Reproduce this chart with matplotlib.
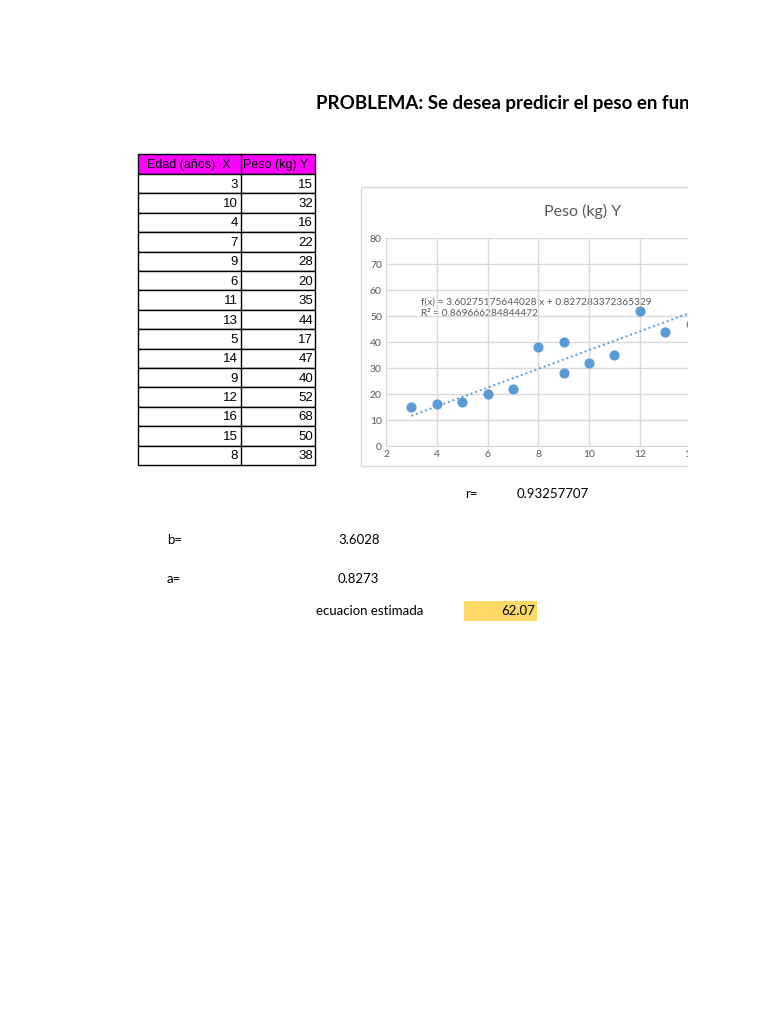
import matplotlib
matplotlib.use("Agg")
import matplotlib.pyplot as plt
from matplotlib.patches import Rectangle

# data from the sheet
edad = [3, 10, 4, 7, 9, 6, 11, 13, 5, 14, 9, 12, 16, 15, 8]
peso = [15, 32, 16, 22, 28, 20, 35, 44, 17, 47, 40, 52, 68, 50, 38]
col_headers = ["Edad (años)  X", "Peso (kg) Y"]
b_coef = 3.60275175644028
a_coef = 0.827283372365329
r2_text = "0.869666284844472"
r_text = "0.93257707"
b_text = "3.6028"
a_text = "0.8273"
estimada_text = "62.07"
x_ticks = [2, 4, 6, 8, 10, 12, 14, 16, 18]
y_ticks = [0, 10, 20, 30, 40, 50, 60, 70, 80]

W, H = 768, 1024
fig = plt.figure(figsize=(W / 100, H / 100), dpi=100)

# page axes in pixel coords
page = fig.add_axes([0, 0, 1, 1])
page.set_xlim(0, W)
page.set_ylim(H, 0)
page.axis("off")

sheet_font = ["Lato", "DejaVu Sans"]
table_font = ["Liberation Sans", "DejaVu Sans"]

page.text(316, 104, "PROBLEMA: Se desea predicir el peso en función de la edad",
          fontsize=13.5, fontweight="bold", family=sheet_font, va="center", ha="left")

# table
x0, x1, x2 = 138, 241, 315
top, hdr_h, row_h = 154, 20, 19.4
page.add_patch(Rectangle((x0, top), x2 - x0, hdr_h, facecolor="#ff00ff", edgecolor="black", lw=1))
page.text(x0 + 9, top + hdr_h / 2 + 1, col_headers[0], family=table_font, fontsize=9,
          va="center", ha="left")
page.text(x1 + 2, top + hdr_h / 2 + 1, col_headers[1], family=table_font, fontsize=9,
          va="center", ha="left")
for i, (ex, py) in enumerate(zip(edad, peso)):
    y = top + hdr_h + i * row_h
    page.add_patch(Rectangle((x0, y), x2 - x0, row_h, facecolor="white", edgecolor="black", lw=1))
    page.text(x1 - 3, y + row_h / 2 + 1, str(ex), family=table_font, fontsize=9.5,
              va="center", ha="right")
    page.text(x2 - 2, y + row_h / 2 + 1, str(py), family=table_font, fontsize=9.5,
              va="center", ha="right")
page.plot([x1, x1], [top, top + hdr_h + len(edad) * row_h], color="black", lw=1)

# chart frame + title
page.add_patch(Rectangle((361, 187), 445, 279, facecolor="white", edgecolor="#d9d9d9", lw=1))
page.text(583, 211, "Peso (kg) Y", family=sheet_font, fontsize=11.5, color="#595959",
          ha="center", va="center")

# lower cells
page.text(465, 494, "r=", family=sheet_font, fontsize=9.5, va="center")
page.text(517, 494, r_text, family=sheet_font, fontsize=9.5, va="center")
page.text(167, 540, "b=", family=sheet_font, fontsize=9.5, va="center")
page.text(338, 540, b_text, family=sheet_font, fontsize=9.5, va="center")
page.text(167, 579, "a=", family=sheet_font, fontsize=9.5, va="center")
page.text(338, 579, a_text, family=sheet_font, fontsize=9.5, va="center")
page.text(316, 611, "ecuacion estimada", family=sheet_font, fontsize=9.5, va="center")
page.add_patch(Rectangle((464, 601), 73, 20, facecolor="#ffd966", edgecolor="none"))
page.text(535, 611, estimada_text, family=sheet_font, fontsize=9.5, va="center", ha="right")

# scatter chart
ax = fig.add_axes([386 / W, 1 - 446 / H, 406 / W, 208 / H])
ax.set_xlim(2, 18)
ax.set_ylim(0, 80)
ax.set_xticks(x_ticks)
ax.set_yticks(y_ticks)
ax.grid(True, color="#d9d9d9", lw=1)
ax.set_axisbelow(True)
for side in ["top", "right"]:
    ax.spines[side].set_visible(False)
for side in ["left", "bottom"]:
    ax.spines[side].set_color("#d9d9d9")
ax.tick_params(length=0, labelsize=7.5, labelcolor="#595959", pad=3)
for lab in ax.get_xticklabels() + ax.get_yticklabels():
    lab.set_family(sheet_font)
ax.set_facecolor("none")

ax.plot(edad, peso, "o", color="#5b9bd5", ms=6.3, zorder=3)
xs = [min(edad), max(edad)]
ax.plot(xs, [b_coef * v + a_coef for v in xs], color="#5b9bd5", lw=1.4,
        linestyle=(0, (1, 1.5)), zorder=2)

page.text(421, 302, f"f(x) = {b_coef} x + {a_coef}", family=sheet_font, fontsize=7.3,
          color="#595959", va="center", zorder=5)
page.text(421, 314, f"R² = {r2_text}", family=sheet_font, fontsize=7.3,
          color="#595959", va="center", zorder=5)

# page edge cuts the content
fig.add_artist(Rectangle((688 / W, 0), 1, 1, transform=fig.transFigure,
                         facecolor="white", edgecolor="none", zorder=50))

fig.savefig("out.png", dpi=100)
